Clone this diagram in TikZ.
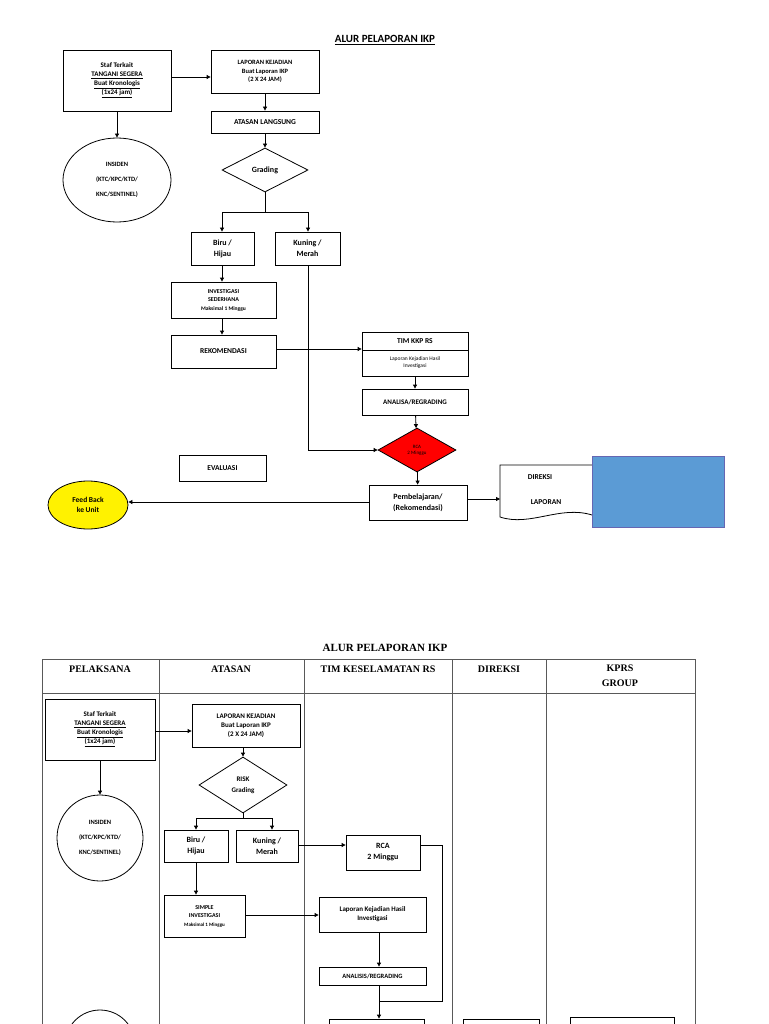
\documentclass[tikz,border=0pt]{standalone}
\usepackage{fontspec}
\setmainfont{Carlito}
\newfontfamily\serf{Liberation Serif}
\usetikzlibrary{shapes.geometric,arrows.meta}
\begin{document}
\begin{tikzpicture}[x=1pt,y=-1pt,
 box/.style={draw,thick,align=center,font=\bfseries\fontsize{7}{9}\selectfont,inner sep=1pt},
 dia/.style={draw,thick,diamond,align=center,font=\bfseries\fontsize{8}{9}\selectfont,inner sep=0pt},
 arr/.style={thick,-{Triangle[length=4pt,width=4pt]}},
 ln/.style={thick},
 hd/.style={font=\serf\bfseries\fontsize{10}{12}\selectfont,align=center}]
\useasboundingbox (0,0) rectangle (768,1024);
\begin{scope}
\clip (0,0) rectangle (768,1024);
% ---------- top ----------
\node[font=\bfseries\fontsize{11}{13}\selectfont] (t1) at (385,40) {\underline{ALUR PELAPORAN IKP}};
\node[box,minimum width=108,minimum height=61] (staf) at (117,80.5) {Staf Terkait\\\underline{TANGANI SEGERA}\\\underline{Buat Kronologis}\\\underline{(1x24 jam)}};
\node[box,minimum width=108,minimum height=43,font=\bfseries\fontsize{6.5}{8.5}\selectfont] (lap) at (265,71.5) {LAPORAN KEJADIAN\\Buat Laporan IKP\\(2 X 24 JAM)};
\node[box,minimum width=108,minimum height=22,font=\bfseries\fontsize{7.5}{9}\selectfont] (ats) at (265,122) {ATASAN LANGSUNG};
\node[dia,minimum width=86,minimum height=44,aspect=2] (gr) at (265,170) {Grading};
\node[draw,thick,ellipse,minimum width=108,minimum height=84,align=center,font=\bfseries\fontsize{6.5}{15}\selectfont] (ins) at (117,180) {INSIDEN\\(KTC/KPC/KTD/\\KNC/SENTINEL)};
\node[box,minimum width=63,minimum height=33,font=\bfseries\fontsize{8}{11}\selectfont] (biru) at (222.5,248.5) {Biru /\\Hijau};
\node[box,minimum width=65,minimum height=33,font=\bfseries\fontsize{8}{11}\selectfont] (kun) at (307.5,248.5) {Kuning /\\Merah};
\node[box,minimum width=105,minimum height=36,font=\bfseries\fontsize{6}{8.5}\selectfont] (inv) at (223.5,300) {INVESTIGASI\\SEDERHANA\\{\fontsize{5.5}{7}\selectfont Maksimal 1 Minggu}};
\node[box,minimum width=105,minimum height=33,font=\bfseries\fontsize{7.5}{9}\selectfont] (rek) at (223.5,351.5) {REKOMENDASI};
\node[draw,thick,minimum width=106,minimum height=44] (tim) at (415,354) {};
\draw[thick] (362,350) -- (468,350);
\node[font=\bfseries\fontsize{7.5}{9}\selectfont] (timt) at (415,341) {TIM KKP RS};
\node[font=\fontsize{5.5}{7}\selectfont,align=center] (timb) at (415,363) {Laporan Kejadian Hasil\\Investigasi};
\node[box,minimum width=106,minimum height=26,font=\bfseries\fontsize{7}{9}\selectfont] (ana) at (415,402) {ANALISA/REGRADING};
\node[dia,fill=red,minimum width=78,minimum height=44,aspect=1.8,font=\fontsize{5}{6}\selectfont] (rca) at (417,450) {RCA\\2 Minggu};
\node[box,minimum width=87,minimum height=26,font=\bfseries\fontsize{7.5}{9}\selectfont] (eva) at (222.5,468) {EVALUASI};
\node[box,minimum width=98,minimum height=35,font=\bfseries\fontsize{8}{11}\selectfont] (pem) at (418,502.5) {Pembelajaran/\\(Rekomendasi)};
\node[draw,thick,ellipse,fill=yellow,minimum width=80,minimum height=48,align=center,font=\bfseries\fontsize{7.5}{10}\selectfont] (fb) at (88,505) {Feed Back\\ke Unit};
\draw[thick] (592,465) -- (500,465) -- (500,517) .. controls (530,527) and (560,505) .. (592,515);
\coordinate (dirL) at (500,499);
\node[font=\bfseries\fontsize{7.5}{9}\selectfont] (dirt) at (540,477) {DIREKSI};
\node[font=\bfseries\fontsize{7.5}{9}\selectfont] (dirb) at (546,502) {LAPORAN};
\node[draw=blue!50!black!60,fill={rgb,255:red,91;green,155;blue,213},minimum width=132,minimum height=71,inner sep=0] (blue) at (658,491.5) {};
\draw[arr] (staf.east|-0,77) -- (lap.west|-0,77);
\draw[arr] (staf) -- (ins);
\draw[arr] (lap) -- (ats);
\draw[arr] (ats) -- (gr);
\draw[ln] (gr.south) -- (265,212);
\coordinate (sp) at (265,212);
\draw[arr] (sp) -- (222,212) -- (biru.north-|222,0);
\draw[arr] (sp) -- (308,212) -- (kun.north-|308,0);
\draw[arr] (biru.south-|222,0) -- (inv.north-|222,0);
\draw[arr] (inv.south-|222,0) -- (rek.north-|222,0);
\draw[arr] (rek.east|-0,349) -- (tim.west|-0,349);
\draw[arr] (kun.south-|308,0) -- (308,450) -- (rca.west);
\draw[arr] (tim) -- (ana);
\draw[arr] (ana) -- (rca);
\draw[arr] (rca) -- (pem);
\draw[arr] (pem.west|-0,502) -- (fb.east|-0,502);
\draw[arr] (pem.east|-0,499) -- (dirL);
% ---------- bottom ----------
\node[font=\serf\bfseries\fontsize{11}{13}\selectfont] (t2) at (385,648) {ALUR PELAPORAN IKP};
\draw[thick,gray!70!black] (42,659) rectangle (695,1030);
\draw[thick,gray!70!black] (42,693) -- (695,693);
\foreach \xx in {159,304,452,546} \draw[thick,gray!70!black] (\xx,659) -- (\xx,1030);
\node[hd] (h1) at (100,669) {PELAKSANA};
\node[hd] (h2) at (231,669) {ATASAN};
\node[hd] (h3) at (378,669) {TIM KESELAMATAN RS};
\node[hd] (h4) at (499,669) {DIREKSI};
\node[hd,font=\serf\bfseries\fontsize{10}{15}\selectfont] (h5) at (620,676) {KPRS\\GROUP};
\node[box,minimum width=110,minimum height=61] (staf2) at (100,729.5) {Staf Terkait\\\underline{TANGANI SEGERA}\\\underline{Buat Kronologis}\\\underline{(1x24 jam)}};
\node[box,minimum width=108,minimum height=43] (lap2) at (246,726) {LAPORAN KEJADIAN\\Buat Laporan IKP\\(2 X 24 JAM)};
\node[dia,minimum width=88,minimum height=56,aspect=1.6,font=\bfseries\fontsize{7}{11}\selectfont] (gr2) at (243,785) {RISK\\Grading};
\node[draw,thick,circle,minimum size=86,align=center,font=\bfseries\fontsize{6.5}{15}\selectfont,inner sep=0] (ins2) at (100,838) {INSIDEN\\(KTC/KPC/KTD/\\KNC/SENTINEL)};
\node[box,minimum width=64,minimum height=32,font=\bfseries\fontsize{8}{11}\selectfont] (biru2) at (196,846) {Biru /\\Hijau};
\node[box,minimum width=62,minimum height=32,font=\bfseries\fontsize{8}{11}\selectfont] (kun2) at (267,846) {Kuning /\\Merah};
\node[box,minimum width=74,minimum height=35,font=\bfseries\fontsize{8}{11}\selectfont] (rca2) at (383,852.5) {RCA\\2 Minggu};
\node[box,minimum width=81,minimum height=42,font=\bfseries\fontsize{6}{8.5}\selectfont] (sim) at (204.5,916) {SIMPLE\\INVESTIGASI\\{\fontsize{5}{7}\selectfont Maksimal 1 Minggu}};
\node[box,minimum width=107,minimum height=35] (hasil) at (372.5,914.5) {Laporan Kejadian Hasil\\Investigasi};
\node[box,minimum width=107,minimum height=18,font=\bfseries\fontsize{6.5}{8}\selectfont] (ana2) at (372.5,976) {ANALISIS/REGRADING};
\node[draw,thick,minimum width=95,minimum height=20] (b1) at (377,1029) {};
\node[draw,thick,minimum width=76,minimum height=20] (b2) at (501,1029) {};
\node[draw,thick,minimum width=104,minimum height=22] (b3) at (622,1028) {};
\node[draw,thick,circle,minimum size=70] (c1) at (100,1045) {};
\draw[arr] (staf2.east|-0,731) -- (lap2.west|-0,731);
\draw[arr] (staf2) -- (ins2);
\draw[arr] (lap2.south-|gr2) -- (gr2.north);
\draw[ln] (gr2.south) -- (243,818);
\coordinate (sp2) at (243,818);
\draw[arr] (sp2) -- (196,818) -- (biru2.north);
\draw[arr] (sp2) -- (272,818) -- (kun2.north-|272,0);
\draw[arr] (kun2.east|-0,845) -- (rca2.west|-0,845);
\draw[arr] (biru2) -- (sim.north-|196,0);
\draw[arr] (sim.east|-0,915) -- (hasil.west|-0,915);
\draw[arr] (hasil.south-|379,0) -- (ana2.north-|379,0);
\draw[arr] (ana2.south-|379,0) -- (b1.north-|379,0);
\draw[ln] (rca2.east|-0,845) -- (442,845) -- (442,1001) -- (379,1001);
\end{scope}
\end{tikzpicture}
\end{document}
